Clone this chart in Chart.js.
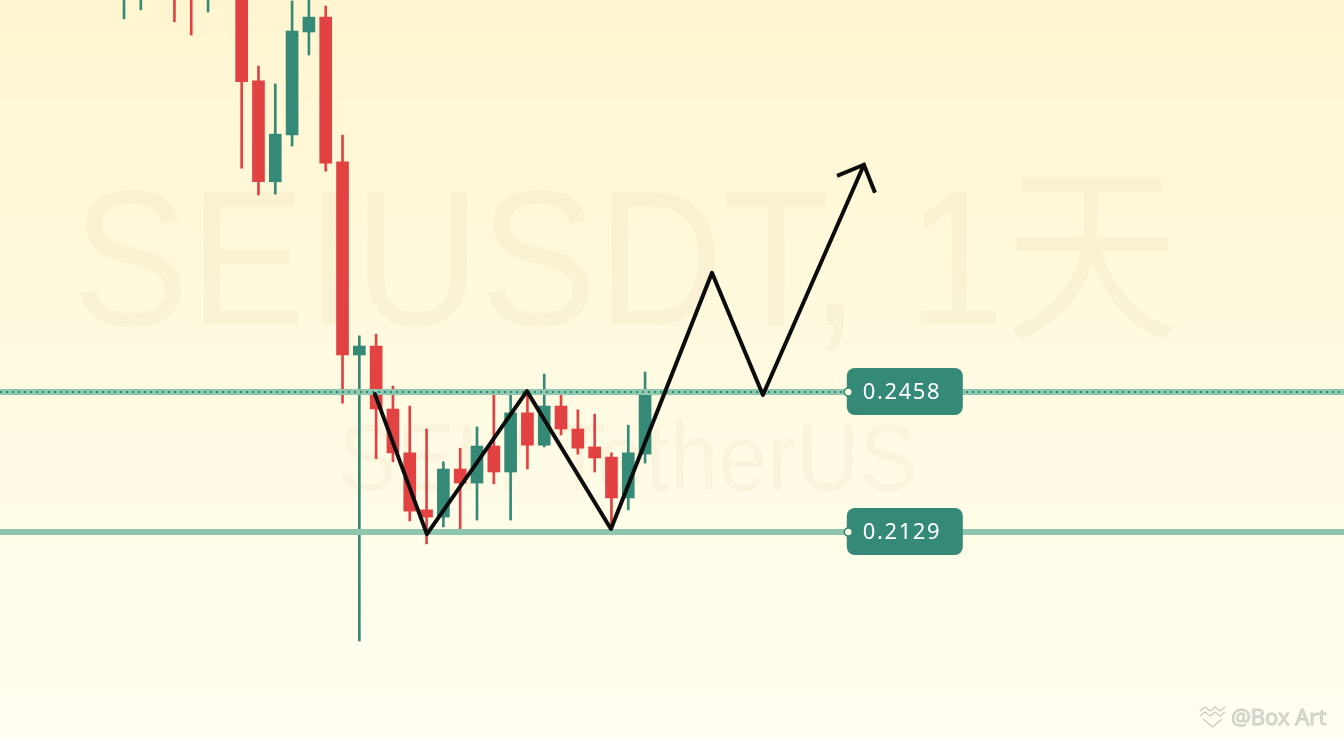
<!DOCTYPE html>
<html>
<head>
<meta charset="utf-8">
<script src="https://cdn.jsdelivr.net/npm/chart.js@4.4.1/dist/chart.umd.min.js"></script>
<style>
  html, body { margin: 0; padding: 0; background: #fffbe4; }
  #wrap { width: 1344px; height: 738px; }
</style>
</head>
<body>
<div id="wrap"><canvas id="SeiChart" width="1344" height="738"></canvas></div>
<script>
// daily candles, index 0 = left-most (several sit above the visible range)
var dayIndex = [0,1,2,3,4,5,6,7,8,9,10,11,12,13,14,15,16,17,18,19,20,21,22,23,24,25,26,27,28,29,30,31];
var opens  = [0.345,0.342,0.356,0.350,0.342,0.339,0.347,0.350,0.3189,0.2952,0.3062,0.3304,0.3339,0.2999,0.2545,0.2566,0.2418,0.2315,0.2181,0.2164,0.2277,0.2244,0.2331,0.2270,0.2409,0.2333,0.2425,0.2371,0.2329,0.2305,0.2209,0.2312];
var highs  = [0.358,0.356,0.362,0.355,0.349,0.352,0.356,0.354,0.3224,0.3182,0.3377,0.342,0.3365,0.3062,0.2590,0.2594,0.2472,0.2425,0.2371,0.2294,0.2326,0.2376,0.2460,0.2456,0.2463,0.2500,0.2453,0.2416,0.2406,0.2315,0.2380,0.2505];
var lows   = [0.3335,0.3356,0.341,0.3328,0.3297,0.3351,0.340,0.2984,0.2921,0.2923,0.3036,0.3250,0.2977,0.2432,0.1873,0.2301,0.2294,0.2155,0.2101,0.2141,0.2136,0.2157,0.2242,0.2157,0.2277,0.2329,0.2357,0.2312,0.2270,0.2138,0.2181,0.2291];
var closes = [0.352,0.350,0.348,0.342,0.339,0.347,0.351,0.3187,0.2952,0.3064,0.3306,0.3339,0.2996,0.2545,0.2566,0.2418,0.2315,0.2178,0.2164,0.2277,0.2244,0.2331,0.2270,0.2409,0.2333,0.2425,0.2371,0.2326,0.2303,0.2209,0.2315,0.2453];

// horizontal levels
var levels = [0.2458, 0.2129];
var levelLabels = ['0.2458', '0.2129'];
var labelAtX = 43.0;

// hand drawn zigzag projection + arrow head
var pathX = [14.93, 18.02, 23.97, 28.97, 34.98, 38.01, 44.02];
var pathY = [0.2453, 0.2124, 0.2460, 0.2136, 0.2738, 0.2451, 0.2992];
var arrowX = [42.42, 44.02, 44.68];
var arrowY = [0.2966, 0.2992, 0.2926];

var xMin = -7.377, xMax = 72.58;
var yMin = 0.16449, yMax = 0.33792;

var UP = '#358a77', DOWN = '#e24242';

var candleColors = opens.map(function(o, i){ return closes[i] >= o ? UP : DOWN; });
var wickData = dayIndex.map(function(d, i){ return {x: d, y: [lows[i], highs[i]]}; });
var bodyData = dayIndex.map(function(d, i){ return {x: d, y: [opens[i], closes[i]]}; });
var zigzag = pathX.map(function(x, i){ return {x: x, y: pathY[i]}; });
var arrowHead = arrowX.map(function(x, i){ return {x: x, y: arrowY[i]}; });

function levelLine(v){ return [{x: xMin, y: v}, {x: xMax, y: v}]; }

var bgPlugin = {
  id: 'bg',
  beforeDraw: function(chart){
    var ctx = chart.ctx, w = chart.width, h = chart.height;
    var g = ctx.createLinearGradient(0, 0, 0, h);
    g.addColorStop(0, '#fff6d0');
    g.addColorStop(1, '#fffef1');
    ctx.save();
    ctx.fillStyle = g;
    ctx.fillRect(0, 0, w, h);

    // big watermark texts
    ctx.fillStyle = 'rgba(170,165,110,0.075)';
    ctx.textBaseline = 'alphabetic';
    ctx.textAlign = 'center';
    function stretched(txt, font, cx, base, width){
      ctx.font = font;
      var m = ctx.measureText(txt).width;
      ctx.save();
      ctx.translate(cx, base);
      ctx.scale(width / m, 1);
      ctx.fillText(txt, 0, 0);
      ctx.restore();
    }
    stretched('SEIUSDT, 1天', '193px "Liberation Sans", "Noto Sans CJK SC"', 626, 325, 1107);
    stretched('SEI / TetherUS', '95px "Liberation Sans"', 628, 490, 580);
    ctx.restore();
  }
};

var labelPlugin = {
  id: 'levelLabels',
  afterDatasetsDraw: function(chart){
    var ctx = chart.ctx;
    var xs = chart.scales.x, ys = chart.scales.y;
    ctx.save();
    levels.forEach(function(v, i){
      var py = ys.getPixelForValue(v);
      var bx = xs.getPixelForValue(labelAtX);
      ctx.fillStyle = '#358a77';
      ctx.beginPath();
      ctx.roundRect(bx, py - 24, 116, 47, 8);
      ctx.fill();
      ctx.fillStyle = '#ffffff';
      ctx.font = '22px "Noto Sans"';
      ctx.letterSpacing = '1.6px';
      ctx.textAlign = 'left';
      ctx.textBaseline = 'middle';
      ctx.fillText(levelLabels[i], bx + 16, py + 1);
      ctx.letterSpacing = '0px';
      ctx.beginPath();
      ctx.arc(bx + 1.5, py, 4, 0, Math.PI * 2);
      ctx.fillStyle = '#fffbe6';
      ctx.fill();
      ctx.lineWidth = 1.6;
      ctx.strokeStyle = '#2e8a72';
      ctx.stroke();
    });

    // author mark bottom right
    ctx.strokeStyle = '#c9c9c0';
    ctx.lineWidth = 1.3;
    ctx.beginPath();
    ctx.moveTo(1200, 711); ctx.lineTo(1205, 707); ctx.lineTo(1210, 711); ctx.lineTo(1215, 707); ctx.lineTo(1220, 711); ctx.lineTo(1225, 707);
    ctx.moveTo(1200, 716); ctx.lineTo(1205, 712); ctx.lineTo(1210, 716); ctx.lineTo(1215, 712); ctx.lineTo(1220, 716); ctx.lineTo(1225, 712);
    ctx.moveTo(1203, 719); ctx.lineTo(1212.5, 727); ctx.lineTo(1222, 719);
    ctx.stroke();
    ctx.font = '22px "Noto Sans"';
    ctx.textAlign = 'left';
    ctx.textBaseline = 'alphabetic';
    ctx.fillStyle = '#e2e2da';
    ctx.fillText('@Box Art', 1231, 725);
    ctx.lineWidth = 0.8;
    ctx.strokeText('@Box Art', 1231, 725);
    ctx.restore();
  }
};

var ctx = document.getElementById('SeiChart').getContext('2d');
var chart = new Chart(ctx, {
  type: 'bar',
  data: {
    datasets: [
      { type: 'line', data: zigzag, borderColor: '#0c0c0c', borderWidth: 4, pointRadius: 0,
        tension: 0, borderJoinStyle: 'round', borderCapStyle: 'round', order: 0 },
      { type: 'line', data: arrowHead, borderColor: '#0c0c0c', borderWidth: 4, pointRadius: 0,
        tension: 0, borderJoinStyle: 'miter', borderCapStyle: 'butt', order: 0 },
      { type: 'line', data: levelLine(levels[0]), borderColor: '#2e8a72', borderWidth: 2,
        borderDash: [2, 4], pointRadius: 0, order: 1 },
      { type: 'line', data: levelLine(levels[0]), borderColor: '#8ec6ae', borderWidth: 6, pointRadius: 0, order: 2 },
      { type: 'line', data: levelLine(levels[1]), borderColor: '#8ec6ae', borderWidth: 6, pointRadius: 0, order: 2 },
      { data: bodyData, backgroundColor: candleColors, barThickness: 12, grouped: false,
        minBarLength: 1, borderWidth: 0, order: 3 },
      { data: wickData, backgroundColor: candleColors, barThickness: 2, grouped: false,
        borderWidth: 0, order: 4 }
    ]
  },
  options: {
    responsive: false,
    animation: false,
    devicePixelRatio: 1,
    layout: { padding: 0 },
    plugins: { legend: { display: false }, tooltip: { enabled: false } },
    scales: {
      x: { type: 'linear', min: xMin, max: xMax, offset: false, display: false },
      y: { type: 'linear', min: yMin, max: yMax, display: false }
    }
  },
  plugins: [bgPlugin, labelPlugin]
});
</script>
</body>
</html>
